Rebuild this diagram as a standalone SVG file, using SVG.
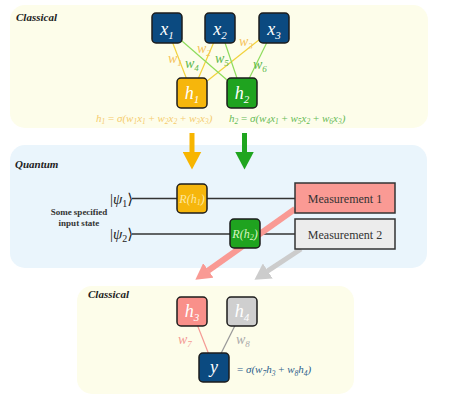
<svg xmlns="http://www.w3.org/2000/svg" width="474" height="408" viewBox="0 0 474 408">
<style>
  text { font-family: "Liberation Serif", "DejaVu Serif", serif; }
  .panelC { fill: #fdfdea; }
  .panelQ { fill: #eaf5fc; }
  .title { font-size: 11px; font-weight: bold; font-style: italic; fill: #222; }
  .node { stroke: #1c1c1c; stroke-width: 1.5; }
  .nl { font-size: 18px; font-style: italic; fill: #ffffff; text-anchor: middle; }
  .sub { font-size: 11px; }
  .wl { font-size: 14px; font-style: italic; }
  .wsub { font-size: 9px; }
  .eq { font-size: 11px; font-style: italic; }
  .esub { font-size: 7.5px; }
  .wire { stroke: #333; stroke-width: 1.5; fill: none; }
  .meas { stroke: #333; stroke-width: 1.5; }
  .mt { font-size: 12px; fill: #333; text-anchor: middle; }
  .rt { font-size: 12px; font-style: italic; text-anchor: middle; }
  .rsub { font-size: 8px; }
  .ket { font-size: 15px; fill: #222; }
  .note { font-size: 9px; font-weight: bold; fill: #333; text-anchor: middle; }
</style>
<defs>
  <marker id="headO" markerUnits="userSpaceOnUse" markerWidth="18" markerHeight="19" refX="0.5" refY="9.5" orient="auto"><path d="M0,0 L18,9.5 L0,19 z" fill="#f7b500"/></marker>
  <marker id="headG" markerUnits="userSpaceOnUse" markerWidth="18" markerHeight="19" refX="0.5" refY="9.5" orient="auto"><path d="M0,0 L18,9.5 L0,19 z" fill="#1fa51f"/></marker>
  <marker id="headP" markerUnits="userSpaceOnUse" markerWidth="16" markerHeight="18" refX="0.5" refY="9" orient="auto"><path d="M0,0 L16,9 L0,18 z" fill="#f99a94"/></marker>
  <marker id="headY" markerUnits="userSpaceOnUse" markerWidth="16" markerHeight="18" refX="0.5" refY="9" orient="auto"><path d="M0,0 L16,9 L0,18 z" fill="#cccccc"/></marker>
</defs>

<g id="panels">
  <rect class="panelC" x="10" y="5" width="418" height="123" rx="15"/>
  <rect class="panelQ" x="10" y="145" width="417" height="123" rx="15"/>
  <rect class="panelC" x="77" y="286" width="277" height="108" rx="15"/>
  <text class="title" x="16" y="21">Classical</text>
  <text class="title" x="15" y="168">Quantum</text>
  <text class="title" x="88" y="298">Classical</text>
</g>

<g id="connectors">
  <line x1="167" y1="28" x2="192" y2="93" stroke="#f2d23c" stroke-width="1.2"/>
  <line x1="220" y1="28" x2="192" y2="93" stroke="#f2d23c" stroke-width="1.2"/>
  <line x1="274" y1="28" x2="192" y2="93" stroke="#f2d23c" stroke-width="1.2"/>
  <line x1="167" y1="28" x2="242" y2="93" stroke="#8edc5c" stroke-width="1.2"/>
  <line x1="220" y1="28" x2="242" y2="93" stroke="#8edc5c" stroke-width="1.2"/>
  <line x1="274" y1="28" x2="242" y2="93" stroke="#8edc5c" stroke-width="1.2"/>
  <line x1="192" y1="133" x2="192" y2="152" stroke="#f7b500" stroke-width="5" marker-end="url(#headO)"/>
  <line x1="244.5" y1="133" x2="244.5" y2="152" stroke="#1fa51f" stroke-width="5" marker-end="url(#headG)"/>
  <line class="wire" x1="132" y1="198.5" x2="295" y2="198.5"/>
  <line class="wire" x1="132" y1="234" x2="295" y2="234"/>
  <line x1="295" y1="209" x2="208" y2="270.7" stroke="#f99a94" stroke-width="6" marker-end="url(#headP)"/>
  <line x1="301" y1="249" x2="267.4" y2="271.2" stroke="#cccccc" stroke-width="5" marker-end="url(#headY)"/>
  <line x1="192" y1="311.5" x2="214" y2="367.5" stroke="#f49a94" stroke-width="1.2"/>
  <line x1="242" y1="311.5" x2="214" y2="367.5" stroke="#999999" stroke-width="1.2"/>
</g>

<g id="weights">
  <text class="wl" x="168" y="63" fill="#f5c25a">w<tspan class="wsub" dy="2.5">1</tspan></text>
  <text class="wl" x="185" y="68" fill="#5cb84a">w<tspan class="wsub" dy="2.5">4</tspan></text>
  <text class="wl" x="197" y="53" fill="#f5c25a">w<tspan class="wsub" dy="2.5">2</tspan></text>
  <text class="wl" x="215" y="63" fill="#5cb84a">w<tspan class="wsub" dy="2.5">5</tspan></text>
  <text class="wl" x="239" y="46" fill="#f5c25a">w<tspan class="wsub" dy="2.5">3</tspan></text>
  <text class="wl" x="253" y="69" fill="#5cb84a">w<tspan class="wsub" dy="2.5">6</tspan></text>
  <text class="wl" x="178" y="344" fill="#f49a94">w<tspan class="wsub" dy="2.5">7</tspan></text>
  <text class="wl" x="236" y="344" fill="#aaaaaa">w<tspan class="wsub" dy="2.5">8</tspan></text>
</g>

<g id="node-x1"><rect class="node" x="152" y="13" width="30" height="30" rx="4" fill="#0b4a80"/><text class="nl" x="167" y="35">x<tspan class="sub" dy="4">1</tspan></text></g>
<g id="node-x2"><rect class="node" x="205" y="13" width="30" height="30" rx="4" fill="#0b4a80"/><text class="nl" x="220" y="35">x<tspan class="sub" dy="4">2</tspan></text></g>
<g id="node-x3"><rect class="node" x="259" y="13" width="30" height="30" rx="4" fill="#0b4a80"/><text class="nl" x="274" y="35">x<tspan class="sub" dy="4">3</tspan></text></g>
<g id="node-h1"><rect class="node" x="177" y="78" width="30" height="30" rx="4" fill="#f6b60c"/><text class="nl" x="192" y="99">h<tspan class="sub" dy="4">1</tspan></text></g>
<g id="node-h2"><rect class="node" x="227" y="78" width="30" height="30" rx="4" fill="#1fa31f"/><text class="nl" x="242" y="99">h<tspan class="sub" dy="4">2</tspan></text></g>

<g id="eq-h1"><text class="eq" x="96" y="122" fill="#f5cc6e">h<tspan class="esub" dy="2">1</tspan><tspan dy="-2" font-style="normal"> = </tspan>σ(w<tspan class="esub" dy="2">1</tspan><tspan dy="-2">x</tspan><tspan class="esub" dy="2">1</tspan><tspan dy="-2" font-style="normal"> + </tspan>w<tspan class="esub" dy="2">2</tspan><tspan dy="-2">x</tspan><tspan class="esub" dy="2">2</tspan><tspan dy="-2" font-style="normal"> + </tspan>w<tspan class="esub" dy="2">3</tspan><tspan dy="-2">x</tspan><tspan class="esub" dy="2">3</tspan><tspan dy="-2">)</tspan></text></g>
<g id="eq-h2"><text class="eq" x="229" y="122" fill="#66bb55">h<tspan class="esub" dy="2">2</tspan><tspan dy="-2" font-style="normal"> = </tspan>σ(w<tspan class="esub" dy="2">4</tspan><tspan dy="-2">x</tspan><tspan class="esub" dy="2">1</tspan><tspan dy="-2" font-style="normal"> + </tspan>w<tspan class="esub" dy="2">5</tspan><tspan dy="-2">x</tspan><tspan class="esub" dy="2">2</tspan><tspan dy="-2" font-style="normal"> + </tspan>w<tspan class="esub" dy="2">6</tspan><tspan dy="-2">x</tspan><tspan class="esub" dy="2">3</tspan><tspan dy="-2">)</tspan></text></g>

<g id="input-state">
  <text class="ket" x="110" y="203.5">|<tspan font-style="italic">ψ</tspan><tspan font-size="10" dy="3">1</tspan><tspan dy="-3">⟩</tspan></text>
  <text class="ket" x="110" y="239">|<tspan font-style="italic">ψ</tspan><tspan font-size="10" dy="3">2</tspan><tspan dy="-3">⟩</tspan></text>
  <text class="note" x="79" y="215">Some specified</text>
  <text class="note" x="79" y="225.5">input state</text>
</g>

<g id="node-Rh1"><rect class="node" x="177" y="184" width="30" height="29" rx="4" fill="#f6b60c"/><text class="rt" x="192" y="203" fill="#fde9a0">R(h<tspan class="rsub" dy="2">1</tspan><tspan dy="-2">)</tspan></text></g>
<g id="node-Rh2"><rect class="node" x="230" y="219" width="30" height="29" rx="4" fill="#1fa31f"/><text class="rt" x="245" y="238" fill="#d8f5c0">R(h<tspan class="rsub" dy="2">2</tspan><tspan dy="-2">)</tspan></text></g>
<g id="node-m1"><rect class="meas" x="295" y="183" width="100" height="30" fill="#fa9a94"/><text class="mt" x="345" y="202.5">Measurement 1</text></g>
<g id="node-m2"><rect class="meas" x="295" y="219" width="100" height="30" fill="#ececec"/><text class="mt" x="345" y="238.5">Measurement 2</text></g>

<g id="node-h3"><rect class="node" x="177" y="297" width="30" height="29" rx="4" fill="#f9908a"/><text class="nl" x="192" y="317" fill="#fde3e0">h<tspan class="sub" dy="4">3</tspan></text></g>
<g id="node-h4"><rect class="node" x="227" y="297" width="30" height="29" rx="4" fill="#cfcfcf"/><text class="nl" x="242" y="317" fill="#eeeeee">h<tspan class="sub" dy="4">4</tspan></text></g>
<g id="node-y"><rect class="node" x="199" y="353" width="30" height="29" rx="4" fill="#0b4a80"/><text class="nl" x="214" y="373">y</text></g>
<g id="eq-y"><text class="eq" x="237" y="373" font-size="13.5px" fill="#2d5f8c"><tspan font-style="normal">= </tspan>σ(w<tspan class="esub" font-size="9px" dy="2.5">7</tspan><tspan dy="-2.5">h</tspan><tspan class="esub" font-size="9px" dy="2.5">3</tspan><tspan dy="-2.5" font-style="normal"> + </tspan>w<tspan class="esub" font-size="9px" dy="2.5">8</tspan><tspan dy="-2.5">h</tspan><tspan class="esub" font-size="9px" dy="2.5">4</tspan><tspan dy="-2.5">)</tspan></text></g>
</svg>
